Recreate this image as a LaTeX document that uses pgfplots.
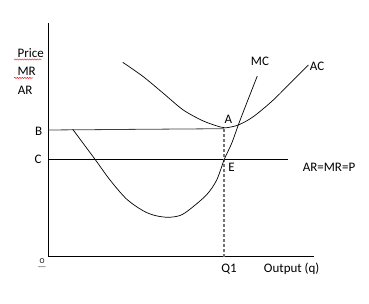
\documentclass[border=0pt]{standalone}
\usepackage{pgfplots}
\pgfplotsset{compat=1.18}
\usepackage{fontspec}
\setmainfont{Carlito}
\usetikzlibrary{decorations.pathmorphing}
\begin{document}
\begin{tikzpicture}
\path[use as bounding box] (-48.3pt,-47.3pt) rectangle (320.7pt,256.7pt);
\begin{axis}[
  x=1pt, y=1pt,
  xmin=0, xmax=266, ymin=0, ymax=233.7,
  axis lines=left,
  axis line style={-, line width=1pt, black},
  xtick=\empty, ytick=\empty,
  clip=false,
  font=\fontsize{13}{15}\selectfont,
]
% B line
\addplot[black!75, line width=0.8pt] coordinates {(0,126.7) (175.7,128)};
% C line
\addplot[black, line width=0.8pt] coordinates {(0,97.4) (239.7,97.4)};
% dashed Q1
\addplot[black!55, line width=1.2pt, dash pattern=on 3pt off 2pt] coordinates {(175.7,0) (175.7,128)};
% MC curve
\addplot[black, line width=0.7pt, smooth] coordinates {
(24.4,127.4) (46.7,97.4) (61.7,76.7) (78.4,57.5) (94.7,46) (106.7,41.2)
(119.7,39.4) (131.7,41.2) (141.7,47.5) (158.4,62) (168.4,76.7) (176,97.4)
(183.4,113.4) (190,131.7) (195.7,146.7) (209,180.7)};
% AC curve
\addplot[black, line width=0.7pt, smooth] coordinates {
(74.4,194.4) (95,180) (115,163.4) (135,146.7) (155,135.7) (171.7,129.8)
(177,128.8) (190,131.7) (205,140) (225,156.7) (245,176.7) (260,191.7)};
% labels
\node[anchor=base west] at (axis cs:-34.3,199.2) {Price};
\node[anchor=base west] at (axis cs:-34.3,180.8) {MR};
\node[anchor=base west] at (axis cs:-34.0,162.5) {AR};
\draw[red, line width=0.4pt, decorate, decoration={snake, amplitude=0.6pt, segment length=2.5pt}] (axis cs:-34.3,197.2) -- (axis cs:-6.6,197.2);
\draw[red, line width=0.4pt, decorate, decoration={snake, amplitude=0.6pt, segment length=2.5pt}] (axis cs:-34.3,178.8) -- (axis cs:-15.3,178.8);
\node[anchor=base east] at (axis cs:-2.6,121.5) {B};
\node[anchor=base east] at (axis cs:-3.3,93.5) {C};
\node[anchor=base, font=\fontsize{7.5}{9}\selectfont] at (axis cs:-6.3,-7.3) {O};
\draw[black!50, line width=0.4pt, decorate, decoration={snake, amplitude=0.5pt, segment length=2pt}] (axis cs:-10,-10) -- (axis cs:-2.6,-10);
\node[anchor=base] at (axis cs:180.7,-15.5) {Q1};
\node[anchor=base] at (axis cs:243.4,-15.5) {Output (q)};
\node[anchor=base] at (axis cs:180.2,133.5) {A};
\node[anchor=base] at (axis cs:183.2,85.5) {E};
\node[anchor=base] at (axis cs:211.7,191.5) {MC};
\node[anchor=base] at (axis cs:268.7,186.5) {AC};
\node[anchor=base] at (axis cs:280.7,85.5) {AR=MR=P};
\end{axis}
\end{tikzpicture}
\end{document}
